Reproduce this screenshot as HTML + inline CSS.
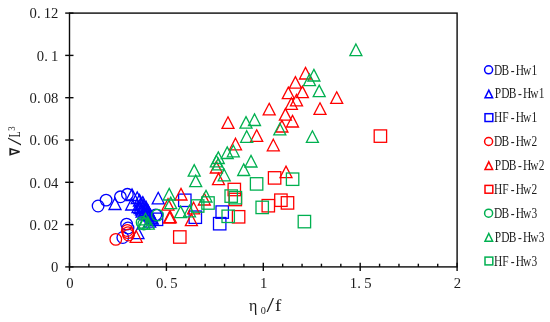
<!DOCTYPE html>
<html lang="en"><head><meta charset="utf-8"><title>Scatter chart</title>
<style>html,body{margin:0;padding:0;background:#fff}svg{display:block}</style></head>
<body>
<svg width="550" height="322" viewBox="0 0 550 322"><rect width="550" height="322" fill="#fff"/><g fill="none" stroke="#0000FF" stroke-width="1.3" stroke-miterlimit="10"><circle cx="98.1" cy="206.0" r="5.8"/><circle cx="106.1" cy="200.1" r="5.8"/><circle cx="120.4" cy="196.8" r="5.8"/><circle cx="127.4" cy="194.3" r="5.8"/><circle cx="126.6" cy="224.1" r="5.8"/><circle cx="128.0" cy="228.0" r="5.8"/><circle cx="122.8" cy="237.5" r="5.8"/><circle cx="155.8" cy="214.9" r="5.8"/></g>
<g fill="none" stroke="#0000FF" stroke-width="1.3" stroke-miterlimit="10"><path d="M115.0 197.9L121.0 209.5H109.0Z"/><path d="M132.0 188.9L138.0 200.5H126.0Z"/><path d="M137.2 191.9L143.2 203.5H131.2Z"/><path d="M142.8 196.6L148.8 208.2H136.8Z"/><path d="M146.2 201.5L152.2 213.1H140.2Z"/><path d="M131.7 198.4L137.7 210.0H125.7Z"/><path d="M158.2 192.3L164.2 203.9H152.2Z"/><path d="M138.0 227.1L144.0 238.7H132.0Z"/><path d="M149.7 215.6L155.7 227.2H143.7Z"/><path d="M139.5 194.4L145.5 206.0H133.5Z"/><path d="M140.5 198.4L146.5 210.0H134.5Z"/><path d="M138.0 200.9L144.0 212.5H132.0Z"/><path d="M143.5 199.9L149.5 211.5H137.5Z"/><path d="M141.5 203.4L147.5 215.0H135.5Z"/><path d="M145.0 204.4L151.0 216.0H139.0Z"/><path d="M148.0 204.9L154.0 216.5H142.0Z"/><path d="M147.0 208.4L153.0 220.0H141.0Z"/><path d="M150.0 209.4L156.0 221.0H144.0Z"/><path d="M144.0 207.4L150.0 219.0H138.0Z"/><path d="M151.5 211.9L157.5 223.5H145.5Z"/><path d="M146.0 203.9L152.0 215.5H140.0Z"/><path d="M148.5 206.9L154.5 218.5H142.5Z"/><path d="M149.5 208.2L155.5 219.8H143.5Z"/><path d="M151.0 210.4L157.0 222.0H145.0Z"/><path d="M152.3 212.4L158.3 224.0H146.3Z"/><path d="M142.0 205.4L148.0 217.0H136.0Z"/><path d="M140.0 201.9L146.0 213.5H134.0Z"/></g>
<g fill="none" stroke="#0000FF" stroke-width="1.3" stroke-miterlimit="10"><rect x="178.6" y="194.1" width="12.4" height="12.4"/><rect x="189.1" y="211.0" width="12.4" height="12.4"/><rect x="216.0" y="205.9" width="12.4" height="12.4"/><rect x="213.5" y="217.5" width="12.4" height="12.4"/><rect x="150.3" y="213.1" width="12.4" height="12.4"/></g>
<g fill="none" stroke="#FF0000" stroke-width="1.3" stroke-miterlimit="10"><circle cx="115.8" cy="239.4" r="5.8"/><circle cx="127.3" cy="230.5" r="5.8"/><circle cx="128.0" cy="232.6" r="5.8"/><circle cx="128.5" cy="235.0" r="5.8"/></g>
<g fill="none" stroke="#FF0000" stroke-width="1.3" stroke-miterlimit="10"><path d="M136.2 230.7L142.2 242.3H130.2Z"/><path d="M181.0 188.4L187.0 200.0H175.0Z"/><path d="M204.3 193.4L210.3 205.0H198.3Z"/><path d="M193.6 202.2L199.6 213.8H187.6Z"/><path d="M168.0 198.6L174.0 210.2H162.0Z"/><path d="M170.3 211.1L176.3 222.7H164.3Z"/><path d="M169.5 211.5L175.5 223.1H163.5Z"/><path d="M191.4 214.0L197.4 225.6H185.4Z"/><path d="M218.5 173.1L224.5 184.7H212.5Z"/><path d="M216.3 161.4L222.3 173.0H210.3Z"/><path d="M235.5 138.2L241.5 149.8H229.5Z"/><path d="M228.0 116.8L234.0 128.4H222.0Z"/><path d="M256.7 129.8L262.7 141.4H250.7Z"/><path d="M273.3 139.2L279.3 150.8H267.3Z"/><path d="M281.9 120.4L287.9 132.0H275.9Z"/><path d="M285.4 108.6L291.4 120.2H279.4Z"/><path d="M292.5 115.4L298.5 127.0H286.5Z"/><path d="M269.2 103.3L275.2 114.9H263.2Z"/><path d="M286.0 166.1L292.0 177.7H280.0Z"/><path d="M305.5 67.4L311.5 79.0H299.5Z"/><path d="M295.4 76.6L301.4 88.2H289.4Z"/><path d="M302.4 86.1L308.4 97.7H296.4Z"/><path d="M288.3 87.1L294.3 98.7H282.3Z"/><path d="M336.7 91.8L342.7 103.4H330.7Z"/><path d="M296.5 94.3L302.5 105.9H290.5Z"/><path d="M291.4 97.7L297.4 109.3H285.4Z"/><path d="M320.0 102.8L326.0 114.4H314.0Z"/></g>
<g fill="none" stroke="#FF0000" stroke-width="1.3" stroke-miterlimit="10"><rect x="173.6" y="230.8" width="12.4" height="12.4"/><rect x="228.1" y="183.3" width="12.4" height="12.4"/><rect x="229.1" y="193.3" width="12.4" height="12.4"/><rect x="232.4" y="210.6" width="12.4" height="12.4"/><rect x="268.4" y="171.7" width="12.4" height="12.4"/><rect x="274.7" y="194.0" width="12.4" height="12.4"/><rect x="281.3" y="196.7" width="12.4" height="12.4"/><rect x="262.1" y="199.5" width="12.4" height="12.4"/><rect x="374.2" y="129.9" width="12.4" height="12.4"/></g>
<g fill="none" stroke="#00B050" stroke-width="1.3" stroke-miterlimit="10"><circle cx="142.1" cy="222.4" r="5.8"/><circle cx="143.8" cy="224.0" r="5.8"/><circle cx="157.4" cy="215.1" r="5.8"/></g>
<g fill="none" stroke="#00B050" stroke-width="1.3" stroke-miterlimit="10"><path d="M145.4 213.3L151.4 224.9H139.4Z"/><path d="M144.0 217.5L150.0 229.1H138.0Z"/><path d="M148.3 217.5L154.3 229.1H142.3Z"/><path d="M169.2 188.4L175.2 200.0H163.2Z"/><path d="M170.7 197.1L176.7 208.7H164.7Z"/><path d="M180.6 206.1L186.6 217.7H174.6Z"/><path d="M189.5 205.2L195.5 216.8H183.5Z"/><path d="M206.0 190.4L212.0 202.0H200.0Z"/><path d="M195.7 175.1L201.7 186.7H189.7Z"/><path d="M194.2 164.6L200.2 176.2H188.2Z"/><path d="M218.3 151.9L224.3 163.5H212.3Z"/><path d="M216.3 155.3L222.3 166.9H210.3Z"/><path d="M218.3 158.3L224.3 169.9H212.3Z"/><path d="M224.2 169.2L230.2 180.8H218.2Z"/><path d="M227.2 146.9L233.2 158.5H221.2Z"/><path d="M233.3 145.2L239.3 156.8H227.3Z"/><path d="M251.0 155.4L257.0 167.0H245.0Z"/><path d="M243.7 163.9L249.7 175.5H237.7Z"/><path d="M246.0 116.6L252.0 128.2H240.0Z"/><path d="M254.5 113.9L260.5 125.5H248.5Z"/><path d="M246.7 130.7L252.7 142.3H240.7Z"/><path d="M279.8 123.3L285.8 134.9H273.8Z"/><path d="M312.4 130.8L318.4 142.4H306.4Z"/><path d="M313.9 69.4L319.9 81.0H307.9Z"/><path d="M309.5 74.0L315.5 85.6H303.5Z"/><path d="M319.2 85.1L325.2 96.7H313.2Z"/><path d="M355.9 44.0L361.9 55.6H349.9Z"/></g>
<g fill="none" stroke="#00B050" stroke-width="1.3" stroke-miterlimit="10"><rect x="201.8" y="196.8" width="12.4" height="12.4"/><rect x="191.5" y="199.8" width="12.4" height="12.4"/><rect x="225.0" y="189.9" width="12.4" height="12.4"/><rect x="229.2" y="191.5" width="12.4" height="12.4"/><rect x="222.0" y="210.1" width="12.4" height="12.4"/><rect x="250.4" y="177.7" width="12.4" height="12.4"/><rect x="286.4" y="173.0" width="12.4" height="12.4"/><rect x="256.0" y="201.2" width="12.4" height="12.4"/><rect x="298.2" y="215.4" width="12.4" height="12.4"/></g>
<g fill="none" stroke="#0a0a0a" stroke-width="1.4"><rect x="69.5" y="13.1" width="387.6" height="253.8"/><path d="M69.50 262.79999999999995V270.9"/><path d="M88.88 263.7V266.9"/><path d="M108.26 263.7V266.9"/><path d="M127.64 263.7V266.9"/><path d="M147.02 263.7V266.9"/><path d="M166.40 262.79999999999995V270.9"/><path d="M185.78 263.7V266.9"/><path d="M205.16 263.7V266.9"/><path d="M224.54 263.7V266.9"/><path d="M243.92 263.7V266.9"/><path d="M263.30 262.79999999999995V270.9"/><path d="M282.68 263.7V266.9"/><path d="M302.06 263.7V266.9"/><path d="M321.44 263.7V266.9"/><path d="M340.82 263.7V266.9"/><path d="M360.20 262.79999999999995V270.9"/><path d="M379.58 263.7V266.9"/><path d="M398.96 263.7V266.9"/><path d="M418.34 263.7V266.9"/><path d="M437.72 263.7V266.9"/><path d="M457.10 262.79999999999995V270.9"/><path d="M65.2 266.90H73.5"/><path d="M65.2 224.60H73.5"/><path d="M65.2 182.30H73.5"/><path d="M65.2 140.00H73.5"/><path d="M65.2 97.70H73.5"/><path d="M65.2 55.40H73.5"/><path d="M65.2 13.10H73.5"/></g>
<g fill="none" stroke="#0000FF" stroke-width="1.5" stroke-miterlimit="10"><circle cx="488.6" cy="69.8" r="4"/></g>
<g fill="none" stroke="#0000FF" stroke-width="1.5" stroke-miterlimit="10"><path d="M488.8 90.1L492.6 97.8H485 Z"/></g>
<g fill="none" stroke="#0000FF" stroke-width="1.5" stroke-miterlimit="10"><rect x="485" y="113.7" width="7.8" height="7.8"/></g>
<g fill="none" stroke="#FF0000" stroke-width="1.5" stroke-miterlimit="10"><circle cx="488.6" cy="141.5" r="4"/></g>
<g fill="none" stroke="#FF0000" stroke-width="1.5" stroke-miterlimit="10"><path d="M488.8 161.8L492.6 169.5H485 Z"/></g>
<g fill="none" stroke="#FF0000" stroke-width="1.5" stroke-miterlimit="10"><rect x="485" y="185.4" width="7.8" height="7.8"/></g>
<g fill="none" stroke="#00B050" stroke-width="1.5" stroke-miterlimit="10"><circle cx="488.6" cy="213.2" r="4"/></g>
<g fill="none" stroke="#00B050" stroke-width="1.5" stroke-miterlimit="10"><path d="M488.8 233.5L492.6 241.2H485 Z"/></g>
<g fill="none" stroke="#00B050" stroke-width="1.5" stroke-miterlimit="10"><rect x="485" y="257.1" width="7.8" height="7.8"/></g>
<g font-family="'Liberation Serif', serif"><text x="54.70" y="272.10" font-size="14.67" text-anchor="middle" fill="#1c1c1c">0</text>
<text x="33.10 38.86 47.50 54.70" y="229.80" font-size="14.67" text-anchor="middle" fill="#1c1c1c">0.02</text>
<text x="33.10 38.86 47.50 54.70" y="187.50" font-size="14.67" text-anchor="middle" fill="#1c1c1c">0.04</text>
<text x="33.10 38.86 47.50 54.70" y="145.20" font-size="14.67" text-anchor="middle" fill="#1c1c1c">0.06</text>
<text x="33.10 38.86 47.50 54.70" y="102.90" font-size="14.67" text-anchor="middle" fill="#1c1c1c">0.08</text>
<text x="40.30 46.06 54.70" y="60.60" font-size="14.67" text-anchor="middle" fill="#1c1c1c">0.1</text>
<text x="33.10 38.86 47.50 54.70" y="18.30" font-size="14.67" text-anchor="middle" fill="#1c1c1c">0.12</text>
<text x="69.90" y="287.80" font-size="14.67" text-anchor="middle" fill="#1c1c1c">0</text>
<text x="159.60 165.36 174.00" y="287.80" font-size="14.67" text-anchor="middle" fill="#1c1c1c">0.5</text>
<text x="263.70" y="287.80" font-size="14.67" text-anchor="middle" fill="#1c1c1c">1</text>
<text x="353.40 359.16 367.80" y="287.80" font-size="14.67" text-anchor="middle" fill="#1c1c1c">1.5</text>
<text x="457.50" y="287.80" font-size="14.67" text-anchor="middle" fill="#1c1c1c">2</text>
<text x="638.51 647.85 657.18 666.51 675.85 685.18" y="70.38" font-size="14.67" text-anchor="middle" fill="#1c1c1c" transform="scale(0.78,1.06)">DB-Hw1</text>
<text x="638.51 647.85 657.18 666.51 675.85 685.18 694.51" y="92.92" font-size="14.67" text-anchor="middle" fill="#1c1c1c" transform="scale(0.78,1.06)">PDB-Hw1</text>
<text x="638.51 647.85 657.18 666.51 675.85 685.18" y="115.47" font-size="14.67" text-anchor="middle" fill="#1c1c1c" transform="scale(0.78,1.06)">HF-Hw1</text>
<text x="638.51 647.85 657.18 666.51 675.85 685.18" y="138.02" font-size="14.67" text-anchor="middle" fill="#1c1c1c" transform="scale(0.78,1.06)">DB-Hw2</text>
<text x="638.51 647.85 657.18 666.51 675.85 685.18 694.51" y="160.57" font-size="14.67" text-anchor="middle" fill="#1c1c1c" transform="scale(0.78,1.06)">PDB-Hw2</text>
<text x="638.51 647.85 657.18 666.51 675.85 685.18" y="183.11" font-size="14.67" text-anchor="middle" fill="#1c1c1c" transform="scale(0.78,1.06)">HF-Hw2</text>
<text x="638.51 647.85 657.18 666.51 675.85 685.18" y="205.66" font-size="14.67" text-anchor="middle" fill="#1c1c1c" transform="scale(0.78,1.06)">DB-Hw3</text>
<text x="638.51 647.85 657.18 666.51 675.85 685.18 694.51" y="228.21" font-size="14.67" text-anchor="middle" fill="#1c1c1c" transform="scale(0.78,1.06)">PDB-Hw3</text>
<text x="638.51 647.85 657.18 666.51 675.85 685.18" y="250.75" font-size="14.67" text-anchor="middle" fill="#1c1c1c" transform="scale(0.78,1.06)">HF-Hw3</text></g>
<g font-family="'Liberation Serif', 'DejaVu Sans', serif" fill="#1c1c1c"><text font-size="16" y="311"><tspan x="248.9">η</tspan><tspan x="260.7" y="314.3" font-size="10.3">0</tspan><tspan x="266.6" y="312.3" font-size="20" textLength="7.5" lengthAdjust="spacingAndGlyphs">/</tspan><tspan x="275" y="311" textLength="6.3" lengthAdjust="spacingAndGlyphs">f</tspan></text><text font-size="16" transform="translate(19.9,155.4) rotate(-90)" y="0"><tspan x="-0.3" font-family="'DejaVu Sans', sans-serif" font-weight="bold" font-size="14.5" textLength="8" lengthAdjust="spacingAndGlyphs">∇</tspan><tspan x="9.9" y="0.85" font-size="17.8" textLength="8.1" lengthAdjust="spacingAndGlyphs">/</tspan><tspan x="18.2" y="0" textLength="5.9" lengthAdjust="spacingAndGlyphs">L</tspan><tspan x="24.6" y="-5" font-size="10.9" textLength="4.4" lengthAdjust="spacingAndGlyphs">3</tspan></text></g></svg>
</body></html>
